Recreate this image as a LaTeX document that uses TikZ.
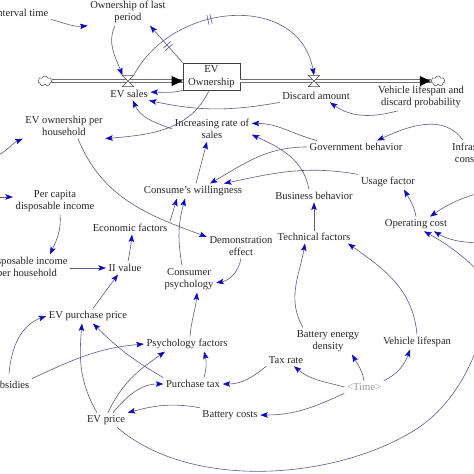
\documentclass[tikz,border=0pt]{standalone}
\usepackage{fontspec}
\setmainfont{Liberation Serif}
\usetikzlibrary{arrows.meta,shapes.symbols,decorations.markings}
\definecolor{lnkc}{RGB}{90,90,140}
\definecolor{arrc}{RGB}{10,10,195}
\definecolor{pipec}{RGB}{110,110,120}
\tikzset{
  var/.style={align=center, inner sep=2.5pt, font=\fontsize{10.6}{12.4}\selectfont, text=black!85},
  lnk/.style={draw=lnkc, line width=0.6pt, -{Stealth[length=7.5pt,width=5.5pt,inset=1.5pt,color=arrc]}},
  pipe/.style={draw=pipec, line width=0.6pt, double=white, double distance=2.2pt},
  cloudnode/.style={cloud, cloud puffs=7, draw=black!70, line width=0.5pt, minimum width=14pt, minimum height=10pt, inner sep=0pt, fill=white},
  valvebox/.style={inner sep=0pt, minimum width=11pt, minimum height=11pt},
  valveshape/.style={draw=black!70, fill=white, line width=0.5pt},
  delayed/.style={postaction={decorate, decoration={markings, mark=at position #1 with {\draw[-, lnkc, line width=0.6pt] (-1.6pt,-5pt) -- (-1.6pt,5pt) (1.6pt,-5pt) -- (1.6pt,5pt);}}}}
}
\begin{document}
\begin{tikzpicture}[x=1pt,y=-1pt]
\useasboundingbox (0,0) rectangle (474,474);
\clip (0,0) rectangle (474,474);
% nodes
\node[var, anchor=east] (interval) at (51,13) {Interval time};
\node[var] (olp) at (128,12) {Ownership of last\\period};
\node[cloudnode] (cloudL) at (45,81) {};
\node[cloudnode] (cloudR) at (438,81) {};
\node[valvebox] (v1) at (128,81) {};
\node[var] (sales) at (129,94) {EV sales};
\node[draw=black!75, fill=white, line width=0.6pt, minimum width=57pt, minimum height=27pt, inner sep=1pt, align=center, font=\fontsize{10.6}{12.4}\selectfont, text=black!85] (stock) at (211.5,76.5) {EV\\Ownership};
\node[valvebox] (v2) at (314,81) {};
\node[var] (discard) at (316,96) {Discard amount};
\node[var] (vlife) at (421,97) {Vehicle lifespan and\\discard probability};
\node[var] (hh) at (64,126) {EV ownership per\\household};
\node[var] (irs) at (212,129) {Increasing rate of\\sales};
\node[var] (gov) at (356,147) {Government behavior};
\node[var] (infra) at (481,153) {Infrastructure\\construction};
\node[var] (pcdi) at (55,201) {Per capita\\disposable income};
\node[var] (cw) at (193,191) {Consume's willingness};
\node[var] (bb) at (314,196) {Business behavior};
\node[var] (uf) at (388,182) {Usage factor};
\node[var] (oc) at (416,224) {Operating cost};
\node[var] (ef) at (130,228) {Economic factors};
\node[var] (de) at (241,246) {Demonstration\\effect};
\node[var] (tf) at (314,237) {Technical factors};
\node[var] (dih) at (27,268) {Disposable income\\per household};
\node[var] (ii) at (125,268) {II value};
\node[var] (cp) at (189,279) {Consumer\\psychology};
\node[var] (epp) at (88,316) {EV purchase price};
\node[var] (pf) at (187,344) {Psychology factors};
\node[var] (bed) at (328,341) {Battery energy\\density};
\node[var] (vl) at (417,342) {Vehicle lifespan};
\node[var] (tr) at (286,360) {Tax rate};
\node[var] (pt) at (193,384) {Purchase tax};
\node[var] (sub) at (9,385) {Subsidies};
\node[var, text=black!40] (time) at (364,387) {<Time>};
\node[var] (bc) at (230,415) {Battery costs};
\node[var] (evp) at (106,420) {EV price};
\coordinate (lh) at (-6,157);
\coordinate (lp) at (-6,197);
\coordinate (r1) at (490,190);
\coordinate (r2) at (490,244);
% flows
\draw[pipe] (cloudL.east) -- (stock.west |- cloudL.east);
\fill[black] (stock.west |- cloudL.east) -- ++(-11,-5) -- ++(0,10) -- cycle;
\draw[pipe] (stock.east |- cloudR.west) -- (cloudR.west);
\fill[black] (cloudR.west) -- ++(-11,-5) -- ++(0,10) -- cycle;
\draw[valveshape] (v1.north west) -- (v1.north east) -- (v1.south west) -- (v1.south east) -- cycle;
\draw[valveshape] (v2.north west) -- (v2.north east) -- (v2.south west) -- (v2.south east) -- cycle;
% links
\draw[lnk] (interval.south east) to[out=-15, in=185] (olp.south west);
\draw[lnk] ([xshift=-13pt]olp.south) to[out=-115, in=110] (v1.north west);
\draw[lnk, delayed=0.45] (stock.north west) -- ([xshift=22pt]olp.south);
\draw[lnk, delayed=0.42] (v1.north east) to[out=62, in=100, looseness=1.2] (v2.north);
\draw[lnk] (stock.south west) to[out=195, in=0] (sales.5);
\draw[lnk] (discard.south west) to[out=190, in=-12] (sales.-18);
\draw[lnk] (irs.west) to[out=160, in=-65] (sales.-60);
\draw[lnk] (stock.-100) to[out=-115, in=5] (hh.south east);
\draw[lnk] ([xshift=14pt]hh.south) to[out=-68, in=160] (de.165);
\draw[lnk] (ef.north east) -- ([xshift=-16pt]cw.south);
\draw[lnk] ([xshift=-7pt]cp.north) to[out=100, in=-105] ([xshift=-8pt]cw.south);
\draw[lnk] (de.south) to[out=-100, in=10] (cp.-8);
\draw[lnk] ([xshift=3pt]pf.north) to[out=85, in=-95] ([xshift=8pt]cp.south);
\draw[lnk] ([xshift=3pt]cw.north) -- ([xshift=-5pt]irs.south);
\draw[lnk] ([xshift=10pt]gov.north west) to[out=165, in=0] (irs.8);
\draw[lnk] ([xshift=-5pt]bb.north) to[out=100, in=-25] (irs.-8);
\draw[lnk] (gov.west) to[out=180, in=30] ([xshift=17pt]cw.north);
\draw[lnk] (uf.north west) to[out=170, in=12] ([xshift=31pt]cw.north);
\draw[lnk] (oc.north) to[out=100, in=-60] ([xshift=16pt]uf.south);
\draw[lnk] (tf.north) -- (bb.south);
\draw[lnk] (vl.north) to[out=95, in=-35] ([xshift=-5pt]tf.south east);
\draw[lnk] ([xshift=-25pt]bed.north) to[out=120, in=-100] ([xshift=-9pt]tf.south);
\draw[lnk] (time.north) to[out=100, in=-60] ([xshift=24pt]bed.south);
\draw[lnk] (time.north east) to[out=25, in=-110] ([xshift=-7pt]vl.south);
\draw[lnk] (time.west) to[out=165, in=-40] ([xshift=8pt]tr.south);
\draw[lnk] (time.south west) to[out=-155, in=0] (bc.east);
\draw[lnk] (tr.south west) to[out=-140, in=0] (pt.east);
\draw[lnk] ([xshift=11pt]pt.north) to[out=75, in=-75] ([xshift=17pt]pf.south);
\draw[lnk] (pt.north west) to[out=150, in=-45] ([xshift=5pt]epp.south);
\draw[lnk] ([xshift=-9pt]evp.north) to[out=120, in=-95] ([xshift=-6pt]epp.south);
\draw[lnk] ([yshift=5pt]sub.north) to[out=85, in=200] (epp.west);
\draw[lnk] (sub.north east) to[out=25, in=185] (pf.west);
\draw[lnk] ([xshift=5pt]epp.north) -- ([xshift=-7pt]ii.south);
\draw[lnk] (dih.east) -- (ii.west);
\draw[lnk] ([xshift=3pt]ii.north) to[out=80, in=-95] ([xshift=2pt]ef.south);
\draw[lnk] ([xshift=5pt]pcdi.south) to[out=-85, in=65] ([xshift=23pt]dih.north);
\draw[lnk] (lh) to[out=20, in=205] (hh.south west);
\draw[lnk] (lp) -- ([yshift=4pt]pcdi.west);
\draw[lnk] ([xshift=-18pt]infra.north) to[out=125, in=25] ([xshift=21pt]gov.north);
\draw[lnk] ([xshift=-23pt]vlife.south) to[out=-165, in=-35] ([xshift=14pt]discard.south);
\draw[lnk] (r1) to[out=195, in=35] ([xshift=14pt]oc.north);
\draw[lnk] (r2) to[out=175, in=-30] ([xshift=18pt]oc.south);
\draw[lnk] ([xshift=11pt]evp.south) .. controls (190,490) and (330,480) .. (410,433) .. controls (450,410) and (478,365) .. (490,300) .. controls (494,278) and (455,248) .. ([xshift=8pt]oc.south);
\draw[lnk] (bc.north west) to[out=170, in=15] (evp.north east);
\draw[lnk] ([xshift=2pt]evp.north) to[out=65, in=-145] ([xshift=-22pt]pf.south);
\draw[lnk] ([xshift=7pt]evp.north) to[out=50, in=180] (pt.west);
\end{tikzpicture}
\end{document}
